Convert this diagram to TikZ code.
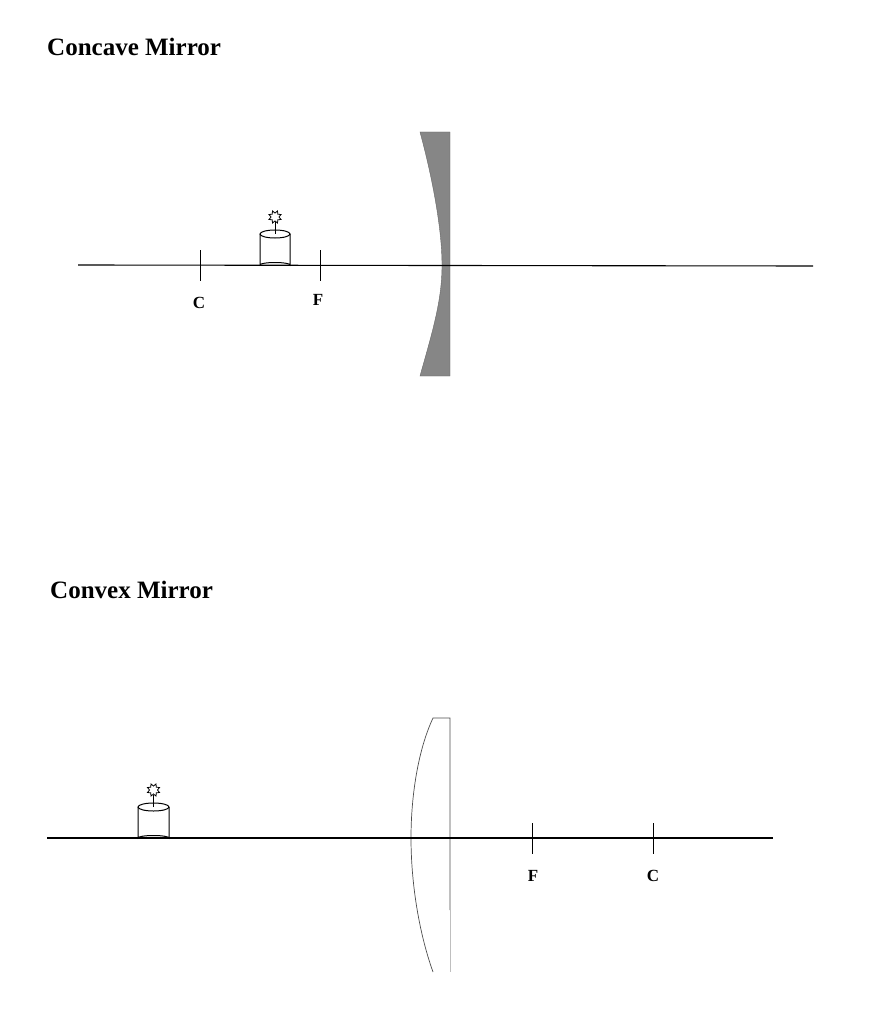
\documentclass[tikz,border=0pt]{standalone}
\usepackage{fontspec}
\setmainfont{Liberation Serif}
\begin{document}
\begin{tikzpicture}[x=1pt,y=-1pt,
  ttl/.style={font=\bfseries\fontsize{25}{28}\selectfont,anchor=west,inner sep=0},
  lbl/.style={font=\bfseries\fontsize{17}{18}\selectfont,inner sep=0},
  tick/.style={line width=1pt},
  axis/.style={line width=1.1pt}]
\useasboundingbox (0,0) rectangle (881,1024);
\newcommand\candle[3]{% x-left, y-bottom, width
  \draw[line width=1pt] (#1,#2-31) -- (#1,#2) arc[start angle=180,end angle=360,x radius=#3/2,y radius=2.5] -- (#1+#3,#2-31);
  \draw[line width=1pt] (#1+#3/2,#2-31) ellipse[x radius=#3/2,y radius=4];
  \draw[line width=0.8pt] (#1+#3/2,#2-31) -- (#1+#3/2,#2-43);
  \draw[line width=0.8pt] plot[samples=17,domain=0:360,variable=\t] ({#1+#3/2+(mod(round(\t/22.5),2)*2.5+4)*cos(\t)},{#2-48+(mod(round(\t/22.5),2)*2.5+4)*sin(\t)});
}
% Concave
\node[ttl] (t1) at (47,47) {Concave Mirror};
\fill[gray!95,draw=black!60,line width=0.4pt] (420,132) -- (450,132) -- (450,376) -- (420,376) .. controls (433,330) and (442,300) .. (442,265) .. controls (442,230) and (433,180) .. (420,132) -- cycle;
\coordinate (a1) at (78,265); \coordinate (a2) at (813,266);
\draw[axis] (a1) -- (a2);
\draw[tick] (200,250) -- (200,281);
\draw[tick] (320,250) -- (320,281);
\node[lbl] (c1) at (199,303) {C};
\node[lbl] (f1) at (318,300) {F};
\candle{260}{265}{30}
% Convex
\node[ttl] (t2) at (50,590) {Convex Mirror};
\draw[black!70,line width=0.7pt] (433,972) .. controls (418,930) and (411,880) .. (411,838) .. controls (411,796) and (418,750) .. (433,718) -- (450,718) -- (450,910);
\draw[black!25,line width=0.7pt] (450,910) -- (450,972);
\coordinate (b1) at (47,838); \coordinate (b2) at (773,838);
\draw[axis] (b1) -- (b2);
\draw[tick] (532,823) -- (532,854);
\draw[tick] (653,823) -- (653,854);
\node[lbl] (f2) at (533,876) {F};
\node[lbl] (c2) at (653,876) {C};
\candle{138}{838}{31}
\end{tikzpicture}
\end{document}
